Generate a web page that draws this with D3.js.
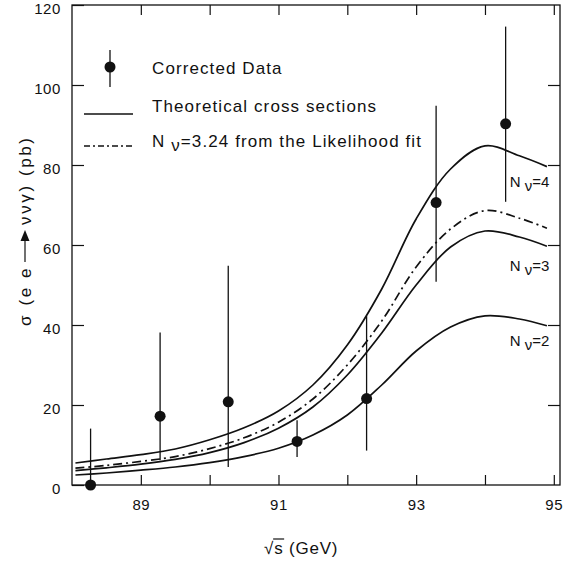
<!DOCTYPE html>
<html>
<head>
<meta charset="utf-8">
<script src="https://cdn.jsdelivr.net/npm/d3@7"></script>
<style>
  body { margin: 0; background: #fff; }
  svg text { font-family: "Liberation Sans", Arial, sans-serif; fill: #111; }
  .axis path { display: none; }
  .axis line { stroke: #111; stroke-width: 1.2; }
  .axis text { font-size: 15px; letter-spacing: 0.6px; }
</style>
</head>
<body>
<svg id="chart"></svg>
<script>
// measured points (corrected data)
const energies = [88.27, 89.28, 90.27, 91.27, 92.28, 93.29, 94.3];
const sigma = [0, 17.2, 20.8, 10.9, 21.6, 70.6, 90.3];
const errLow = [0, 6.2, 4.5, 7.0, 8.6, 50.8, 70.8];
const errHigh = [14.1, 38.1, 54.8, 16.2, 42.2, 94.8, 114.6];

// theoretical curves
const curveX = [88.05, 88.5, 89, 89.5, 90, 90.5, 91, 91.5, 92, 92.5, 93, 93.5, 94, 94.5, 94.9];
const nu4 = [5.5, 6.5, 7.6, 9.0, 11.3, 14.3, 18.5, 25, 35, 49, 66.5, 79, 84.8, 82.3, 79.6];
const nuFit = [4.2, 4.9, 5.9, 7.1, 9.1, 11.8, 15.7, 21.5, 30, 41, 54.5, 64, 68.6, 66.7, 64.2];
const nu3 = [3.6, 4.3, 5.2, 6.4, 8.1, 10.6, 14.2, 19.5, 27.5, 38, 50, 59.5, 63.5, 62, 59.7];
const nu2 = [2.5, 3.0, 3.7, 4.5, 5.6, 7.1, 9.2, 12.5, 17.5, 25, 33.5, 39.5, 42.3, 41.5, 39.8];

const curveLabels = ["4", "3", "2"];
const xTicks = [89, 90, 91, 92, 93, 94, 95];
const yTicks = [0, 20, 40, 60, 80, 100, 120];

const width = 573, height = 565;
const margin = { top: 5, right: 13, bottom: 80, left: 72 };
const innerW = width - margin.left - margin.right;
const innerH = height - margin.top - margin.bottom;

const svg = d3.select("#chart").attr("width", width).attr("height", height);
const chart = svg.append("g").attr("transform", `translate(${margin.left},${margin.top})`);

const x = d3.scaleLinear().domain([88, 95.09]).range([0, innerW]);
const y = d3.scaleLinear().domain([0, 120]).range([innerH, 0]);

// frame
chart.append("rect")
  .attr("width", innerW).attr("height", innerH)
  .attr("fill", "none").attr("stroke", "#111").attr("stroke-width", 1.3);

// axes with inward ticks on all four sides
chart.append("g").attr("class", "axis")
  .attr("transform", `translate(0,${innerH})`)
  .call(d3.axisBottom(x).tickValues(xTicks).tickSizeInner(-10).tickSizeOuter(0).tickPadding(14)
    .tickFormat(d => (d % 2 === 1 ? d : "")));
chart.append("g").attr("class", "axis")
  .call(d3.axisTop(x).tickValues(xTicks).tickSizeInner(-10).tickSizeOuter(0).tickFormat(""));
chart.append("g").attr("class", "axis")
  .call(d3.axisLeft(y).tickValues(yTicks).tickSizeInner(-12).tickSizeOuter(0).tickPadding(11))
  .selectAll("text").attr("dy", "0.55em");
chart.append("g").attr("class", "axis")
  .attr("transform", `translate(${innerW},0)`)
  .call(d3.axisRight(y).tickValues(yTicks.slice(1, -1)).tickSizeInner(-12).tickSizeOuter(0).tickFormat(""));

// theory curves
const line = d3.line()
  .x(d => x(d[0]))
  .y(d => y(d[1]))
  .curve(d3.curveCatmullRom.alpha(0.5));

const series = [
  { vals: nu4, dash: null },
  { vals: nu3, dash: null },
  { vals: nu2, dash: null },
  { vals: nuFit, dash: "9,4,2,4" }
];
chart.selectAll(".theory")
  .data(series)
  .join("path")
  .attr("class", "theory")
  .attr("d", s => line(curveX.map((cx, i) => [cx, s.vals[i]])))
  .attr("fill", "none")
  .attr("stroke", "#111")
  .attr("stroke-width", 1.7)
  .attr("stroke-dasharray", s => s.dash);

// curve labels N_nu = 4,3,2
const labelPos = [[94.36, 74.5], [94.36, 53.5], [94.36, 34.8]];
curveLabels.forEach((lab, i) => {
  const t = chart.append("text")
    .attr("x", x(labelPos[i][0]))
    .attr("y", y(labelPos[i][1]))
    .style("font-size", "15px");
  t.append("tspan").text("N ");
  t.append("tspan").attr("dy", 4).text("ν");
  t.append("tspan").attr("dy", -4).text("=" + lab);
});

// error bars and points
const pts = energies.map((e, i) => ({ e, s: sigma[i], lo: errLow[i], hi: errHigh[i] }));
chart.selectAll(".err")
  .data(pts)
  .join("line")
  .attr("class", "err")
  .attr("x1", d => x(d.e)).attr("x2", d => x(d.e))
  .attr("y1", d => y(d.lo)).attr("y2", d => y(d.hi))
  .attr("stroke", "#111").attr("stroke-width", 1.3);
chart.selectAll(".point")
  .data(pts)
  .join("circle")
  .attr("class", "point")
  .attr("cx", d => x(d.e)).attr("cy", d => y(d.s))
  .attr("r", 5.5)
  .attr("fill", "#111");

// legend
const legend = svg.append("g");
legend.append("line").attr("x1", 110).attr("x2", 110).attr("y1", 50).attr("y2", 87)
  .attr("stroke", "#111").attr("stroke-width", 1.3);
legend.append("circle").attr("cx", 110).attr("cy", 67).attr("r", 5.5).attr("fill", "#111");
legend.append("line").attr("x1", 84).attr("x2", 133).attr("y1", 114).attr("y2", 114)
  .attr("stroke", "#111").attr("stroke-width", 1.5);
legend.append("line").attr("x1", 84).attr("x2", 133).attr("y1", 146).attr("y2", 146)
  .attr("stroke", "#111").attr("stroke-width", 1.5).attr("stroke-dasharray", "6,3,2,3");

const legText = (yy) => legend.append("text").attr("x", 152).attr("y", yy)
  .style("font-size", "17px").style("letter-spacing", "1.1px");
legText(74).text("Corrected Data");
legText(112).text("Theoretical cross sections");
const fitText = legText(147);
fitText.append("tspan").text("N ");
fitText.append("tspan").attr("dy", 4).text("ν");
fitText.append("tspan").attr("dy", -4).text("=3.24 from the Likelihood fit");

// x title: sqrt(s) (GeV)
const xt = svg.append("text").attr("x", 264).attr("y", 554).style("font-size", "17px").style("letter-spacing", "0.8px");
const rad = xt.append("tspan").text("√");
xt.append("tspan").text("s (GeV)");
const radW = rad.node().getComputedTextLength();
svg.append("line").attr("x1", 264 + radW - 1).attr("x2", 264 + radW + 10)
  .attr("y1", 539).attr("y2", 539).attr("stroke", "#111").attr("stroke-width", 1.2);

// y title, rotated, with a filled arrow
const yFont = { size: "17px", ls: "2.6px" };
const yt = svg.append("g").attr("transform", "translate(31,326) rotate(-90)");
const p1 = yt.append("text").attr("x", 0).attr("y", 0)
  .style("font-size", yFont.size).style("letter-spacing", yFont.ls).text("σ (e e");
const w1 = p1.node().getComputedTextLength() + 4;
const arrowLen = 32;
yt.append("line").attr("x1", w1).attr("x2", w1 + arrowLen - 8).attr("y1", -6).attr("y2", -6)
  .attr("stroke", "#111").attr("stroke-width", 1.2);
yt.append("path")
  .attr("d", `M${w1 + arrowLen - 11},-10.5 L${w1 + arrowLen},-6 L${w1 + arrowLen - 11},-1.5 Z`)
  .attr("fill", "#111");
yt.append("text").attr("x", w1 + arrowLen + 5).attr("y", 0)
  .style("font-size", yFont.size).style("letter-spacing", yFont.ls).text("ννγ) (pb)");
</script>
</body>
</html>
